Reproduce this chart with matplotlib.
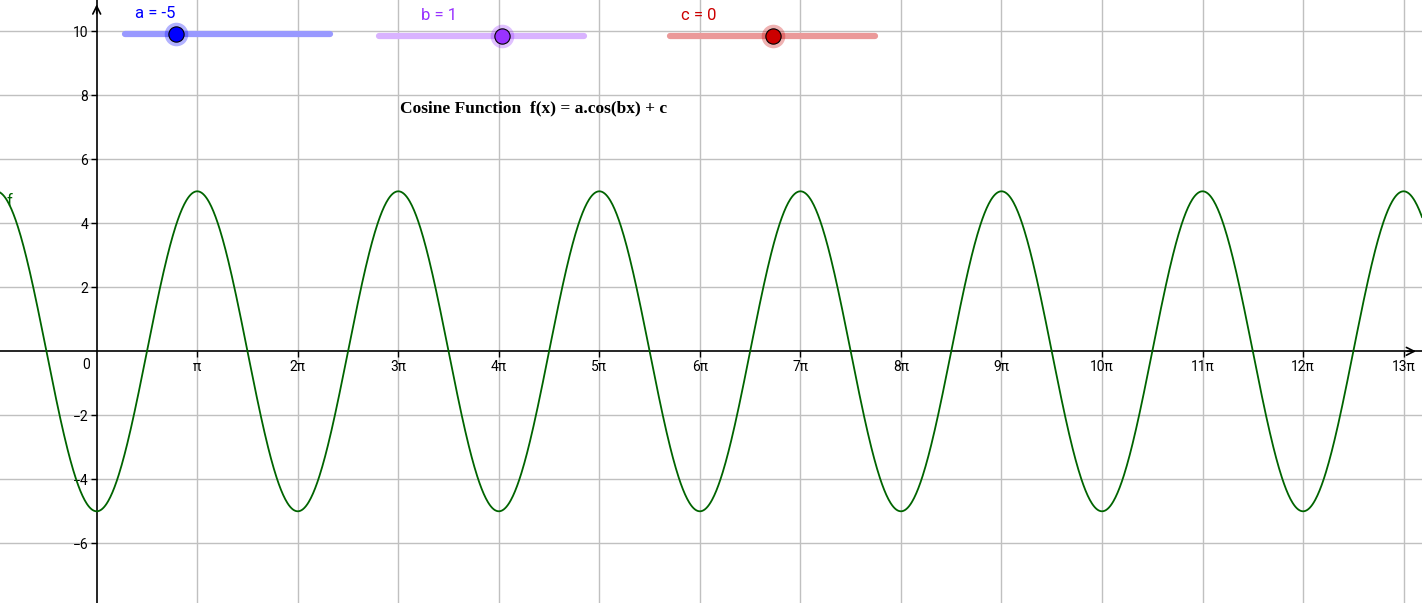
import matplotlib.pyplot as plt
import numpy as np
from matplotlib.ticker import FixedLocator, FuncFormatter

plt.rcParams['font.family'] = ['Roboto', 'DejaVu Sans']

# slider values and their ranges
slider_names = ['a', 'b', 'c']
slider_values = [-5, 1, 0]
slider_mins = [-10, -5, -5]
slider_maxs = [10, 5, 5]

x_tick_multiples = list(range(1, 14))          # 1π .. 13π
y_tick_values = [-6, -4, -2, 2, 4, 6, 8, 10]

title = 'Cosine Function  f(x) = a.cos(bx) + c'

W, H = 1422, 603
fig = plt.figure(figsize=(W / 100, H / 100), dpi=100)
ax = fig.add_axes([0, 0, 1, 1])

# view window (GeoGebra style, ~32 px per unit on both axes)
x0_px, y0_px, scale = 96.7, 351.3, 32.0
xmin, xmax = -x0_px / scale, (W - x0_px) / scale
ymax, ymin = y0_px / scale, -(H - y0_px) / scale
ax.set_xlim(xmin, xmax)
ax.set_ylim(ymin, ymax)


def px(xp, yp):
    return (xp - x0_px) / scale, (y0_px - yp) / scale


# curve
a, b, c = slider_values
xs = np.linspace(xmin, xmax, 2000)
ax.plot(xs, a * np.cos(b * xs) + c, color='#006400', lw=1.3, zorder=3)
fx, fy = px(9, 202)
ax.text(fx, fy, 'f', color='#006400', fontsize=12, ha='center', va='center')

# axes through origin
for s in ['top', 'right']:
    ax.spines[s].set_visible(False)
ax.spines['left'].set_position(('data', 0))
ax.spines['bottom'].set_position(('data', 0))
for s in ['left', 'bottom']:
    ax.spines[s].set_linewidth(1.2)
ax.annotate('', xy=(xmax - 0.1, 0), xytext=(xmax - 0.55, 0),
            arrowprops=dict(arrowstyle='->', lw=1.2, color='black', mutation_scale=14))
ax.annotate('', xy=(0, ymax - 0.05), xytext=(0, ymax - 0.5),
            arrowprops=dict(arrowstyle='->', lw=1.2, color='black', mutation_scale=14))

ax.xaxis.set_major_locator(FixedLocator([k * np.pi for k in x_tick_multiples]))
ax.xaxis.set_major_formatter(FuncFormatter(
    lambda v, p: 'π' if round(v / np.pi) == 1 else f'{round(v / np.pi)}π'))
ax.yaxis.set_major_locator(FixedLocator(y_tick_values))
ax.tick_params(direction='out', length=4, width=1, labelsize=10, pad=2)
ax.grid(True, color='#c0c0c0', lw=1, zorder=0)
ax.set_axisbelow(True)
ax.text(-0.22, -0.2, '0', fontsize=10, ha='right', va='top')

# sliders
slider_colors = ['#0000ff', '#9933ff', '#cc0000']
line_colors = ['#9999ff', '#d9b3ff', '#eb9999']
slider_left_px = [125, 379, 670]
slider_y_px = [34, 35.5, 36]
label_px = [(135, 13), (421, 15), (681, 16)]
slider_len = 205 / scale
for i, name in enumerate(slider_names):
    sx, sy = px(slider_left_px[i], slider_y_px[i])
    ax.plot([sx, sx + slider_len], [sy, sy], color=line_colors[i], lw=4.5,
            solid_capstyle='round', zorder=4)
    frac = (slider_values[i] - slider_mins[i]) / (slider_maxs[i] - slider_mins[i])
    kx = sx + frac * slider_len
    ax.plot(kx, sy, 'o', ms=17, color=slider_colors[i], alpha=0.3, mec='none', zorder=5)
    ax.plot(kx, sy, 'o', ms=11, color=slider_colors[i], mec='black', mew=0.8, zorder=6)
    lx, ly = px(*label_px[i])
    ax.text(lx, ly, f'{name} = {slider_values[i]}', color=slider_colors[i],
            fontsize=12, ha='left', va='center', zorder=6)

tx, ty = px(400, 108)
ax.text(tx, ty, title, fontsize=12.5, fontweight='bold', family='Liberation Serif',
        ha='left', va='center')

fig.savefig('out.png', dpi=100)
